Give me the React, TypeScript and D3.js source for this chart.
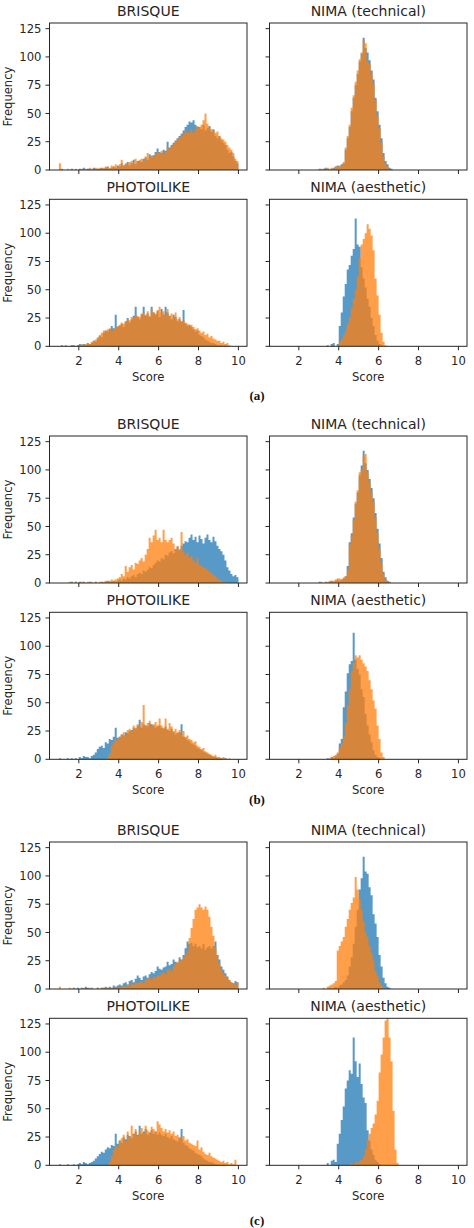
import React from "react";
import * as d3 from "d3";

// bin width of every histogram (score units)
const BIN = 0.1;

const groupLabels = ["(a)", "(b)", "(c)"];
const panelTitles = ["BRISQUE", "NIMA (technical)", "PHOTOILIKE", "NIMA (aesthetic)"];
const xTicks = [2, 4, 6, 8, 10];
const yTicks = [0, 25, 50, 75, 100, 125];

// ---- (a) ----
const aBrisqueBlue = { from: 1.0, counts: [
  0,1,0,0,0,0,1,0,0,0, 1,0,2,0,1,1,0,2,1,1, 1,2,1,2,3,1,2,3,2,4,
  3,6,4,5,7,4,6,9,5,8, 8,7,10,11,9,14,12,13,16,19, 16,15,18,17,25,20,22,24,26,28,
  30,32,35,38,40,43,42,44,40,38, 38,36,40,35,37,39,34,36,30,28, 30,26,24,22,18,15,16,12,8,6] };
const aBrisqueOrange = { from: 1.0, counts: [
  6,0,0,0,1,0,0,0,1,0, 0,1,0,1,0,2,1,1,2,1, 2,1,2,3,2,2,4,3,5,2,
  5,9,4,6,5,7,8,6,10,7, 9,10,8,12,15,11,13,12,14,16, 15,17,14,16,20,19,21,23,25,27,
  29,30,32,35,33,34,36,33,36,39, 38,40,44,50,41,38,36,35,33,34, 30,28,27,25,22,20,18,15,10,8] };
const aNimaTBlue = { from: 3.0, counts: [
  1,0,1,2,1,0,1,2,3,4, 3,5,6,18,28,38,52,64,75,85, 96,103,117,108,104,97,88,80,64,52, 40,28,15,8,5,2,1] };
const aNimaTOrange = { from: 3.0, counts: [
  0,1,0,1,2,1,2,1,3,3, 4,4,7,20,30,40,55,66,78,88, 98,104,115,112,96,94,85,76,62,48, 37,24,12,6,3,1] };
const aPhotoBlue = { from: 1.0, counts: [
  0,1,0,1,0,0,1,1,0,1, 2,1,2,1,3,2,3,5,4,7, 9,8,12,14,13,15,18,16,28,17,
  18,20,17,22,25,21,24,27,35,26, 24,28,35,27,29,26,35,30,28,31, 26,33,28,35,30,27,24,28,26,22,
  24,22,32,20,18,19,17,15,13,14, 10,9,8,6,5,4,3,3,2,1, 1,1,0,1] };
const aPhotoOrange = { from: 1.5, counts: [
  0,1,0,0,1, 1,2,1,2,3,2,4,5,6,8, 10,12,14,13,15,16,14,15,17,18,
  19,21,20,22,24,23,26,25,28,27, 26,29,30,28,31,27,33,30,29,32, 35,30,31,28,33,27,29,25,30,24,
  26,22,23,21,20,18,19,17,15,16, 14,12,13,10,11,8,9,7,6,5, 5,3,4,2,3,1] };
const aNimaABlue = { from: 3.4, counts: [
  1,0,2,3,0,2, 18,30,44,55,68,72,80,86,113,90, 88,70,60,52,42,35,25,18,10,5, 2,1] };
const aNimaAOrange = { from: 4.0, counts: [
  4,6,10,14,20,26,34,42,50,62, 78,90,95,100,108,104,98,85,60,45, 28,12,4,1] };

// ---- (b) ----
const bBrisqueBlue = { from: 1.5, counts: [
  0,1,0,1,0, 1,0,1,0,0,1,0,0,1,0, 0,1,0,1,2,1,1,2,1,2,
  3,2,4,3,5,4,6,7,5,8, 9,8,11,10,12,14,13,16,18,20, 19,22,21,25,24,27,28,26,30,32,
  29,33,35,37,36,40,43,38,41,36, 42,39,35,40,43,38,36,41,37,33, 30,28,25,20,14,11,8,6,7,5] };
const bBrisqueOrange = { from: 1.5, counts: [
  1,0,0,1,0, 0,1,0,0,1,0,1,0,1,0, 1,0,1,2,1,2,3,2,3,4,
  5,8,6,15,10,14,16,12,18,17, 20,22,19,25,30,40,36,42,47,38, 40,36,47,38,36,38,40,35,30,33,
  30,45,28,25,27,22,24,20,18,22, 16,15,14,13,12,10,9,7,6,4, 3,2,1,1] };
const bNimaTBlue = { from: 3.0, counts: [
  1,0,0,1,0,1,2,1,2,3, 2,3,4,6,15,36,44,58,70,80, 95,104,117,106,100,92,84,75,62,48, 35,22,10,5,2,1] };
const bNimaTOrange = { from: 3.0, counts: [
  0,1,0,0,1,2,1,2,3,4, 4,3,5,6,12,34,42,56,72,82, 98,100,112,114,98,90,80,72,58,44, 30,18,8,3,1] };
const bPhotoBlue = { from: 1.0, counts: [
  1,0,0,0,1,0,1,0,1,0, 2,1,3,2,2,1,3,4,6,9, 11,12,10,15,14,18,17,20,28,19,
  20,22,21,24,23,25,26,28,27,30, 35,28,31,30,29,32,31,30,28,29, 30,28,27,29,26,25,27,24,22,23,
  24,31,20,19,17,16,14,13,12,10, 9,8,7,6,5,4,3,2,2,1, 1,1,0,1] };
const bPhotoOrange = { from: 3.4, counts: [
  2,5,12,15,18,17, 20,22,24,21,26,27,25,30,28,31, 29,33,48,30,32,34,29,31,33,30,
  36,30,28,36,27,32,29,25,27,24, 26,22,25,20,21,18,17,15,16,12, 11,9,10,7,6,5,4,3,4,2, 2,1,2,1,0,1] };
const bNimaABlue = { from: 3.4, counts: [
  1,0,2,1,3,5, 14,18,46,60,76,84,87,112,88,80, 75,62,55,40,30,22,15,8,4,2, 1] };
const bNimaAOrange = { from: 3.5, counts: [
  1,2,3,4,6, 10,14,20,32,48,62,78,85,92,90, 92,88,85,82,78,70,62,52,45,30, 18,6,2] };

// ---- (c) ----
const cBrisqueBlue = { from: 1.5, counts: [
  0,0,1,0,1, 0,1,0,2,1,0,1,0,0,1, 0,1,1,2,1,2,1,3,2,3,
  4,3,5,6,4,7,8,6,9,12, 10,8,11,12,10,13,15,14,16,20, 18,17,19,20,24,21,22,26,24,23,
  28,26,30,36,42,40,41,38,40,37, 38,36,40,35,37,38,36,38,42,30, 26,20,17,14,11,8,6,5,7,6] };
const cBrisqueOrange = { from: 1.0, counts: [
  2,0,0,0,0,1,0,0,0,0, 0,0,1,0,0,1,0,0,0,1, 0,1,0,1,0,1,1,0,2,1,
  1,2,3,2,4,3,5,4,6,5, 6,7,5,8,9,10,8,11,10,12, 12,14,15,13,17,18,16,20,22,24,
  25,26,28,30,34,45,54,62,70,72, 75,72,70,73,70,64,55,47,37,30, 23,18,14,12,10,8,6,5,4,6] };
const cNimaTBlue = { from: 3.4, counts: [
  0,1,0,1,2,1, 3,4,6,8,12,20,28,40,55,70, 88,98,117,104,102,90,83,66,58,46, 30,20,10,5,2,1] };
const cNimaTOrange = { from: 3.2, counts: [
  1,0,2,3,4,5,7,34, 38,42,46,55,62,70,76,81,99,88, 80,70,60,50,46,38,32,25,16,12, 6,3,1] };
const cPhotoBlue = { from: 1.0, counts: [
  1,0,0,0,1,0,0,1,0,1, 2,1,3,2,1,2,3,4,6,8, 10,12,11,14,16,15,18,17,28,19,
  22,20,25,23,27,26,24,28,30,27, 35,28,30,32,27,29,31,28,30,27, 29,27,26,28,25,24,26,23,22,21,
  24,32,20,18,17,15,14,13,11,10, 9,8,6,5,4,3,3,2,1,1, 1,0,1] };
const cPhotoOrange = { from: 3.5, counts: [
  3,8,14,18,16, 22,24,27,21,30,25,35,28,32,26, 30,33,28,35,31,29,34,32,30,39,
  36,33,30,32,29,31,28,30,26,27, 25,24,26,22,23,20,19,18,17,22, 14,16,12,10,9,11,8,7,6,5, 4,3,4,2,3,1,2,1,5] };
const cNimaABlue = { from: 3.4, counts: [
  2,0,4,5,3,19, 28,40,52,68,75,84,81,113,92,78, 90,72,60,55,31,22,14,9,5,3, 1] };
const cNimaAOrange = { from: 4.5, counts: [
  1,2,1,3,2, 4,5,8,14,22,28,33,37,45,57, 82,98,113,128,132,113,92,48,14,2] };

const groups = [
  [[aBrisqueBlue, aBrisqueOrange], [aNimaTBlue, aNimaTOrange], [aPhotoBlue, aPhotoOrange], [aNimaABlue, aNimaAOrange]],
  [[bBrisqueBlue, bBrisqueOrange], [bNimaTBlue, bNimaTOrange], [bPhotoBlue, bPhotoOrange], [bNimaABlue, bNimaAOrange]],
  [[cBrisqueBlue, cBrisqueOrange], [cNimaTBlue, cNimaTOrange], [cPhotoBlue, cPhotoOrange], [cNimaABlue, cNimaAOrange]],
];

// layout
const W = 474, H = 1228;
const colLeft = [49.5, 269.5];
const AX_W = 197.5, AX_H = 147, ROW_PITCH = 176.3;
const groupTop = [23, 436, 842];
const groupLabelY = [399.5, 803.5, 1224.5];
const FONT = "DejaVu Sans, sans-serif";
const INK = "#262626";
const BLUE = "#1f77b4", ORANGE = "#ff7f0e";

type Series = { from: number; counts: number[] };

function Panel({ left, top, title, pair, xLabels, yLabels }: {
  left: number; top: number; title: string; pair: Series[]; xLabels: boolean; yLabels: boolean;
}) {
  const x = d3.scaleLinear().domain([0.53, 10.43]).range([left, left + AX_W]);
  const y = d3.scaleLinear().domain([0, 130]).range([top + AX_H, top]).clamp(true);
  const area = d3.area<[number, number]>()
    .x(d => x(d[0]))
    .y0(y(0))
    .y1(d => y(d[1]))
    .curve(d3.curveStepAfter);
  const steps = (s: Series) => {
    const pts: [number, number][] = s.counts.map((c, i) => [s.from + i * BIN, c]);
    pts.push([s.from + s.counts.length * BIN, s.counts[s.counts.length - 1]]);
    return pts;
  };
  const bottom = top + AX_H;
  return (
    <g>
      {pair.map((s, i) => (
        <path key={i} d={area(steps(s)) || ""} fill={i === 0 ? BLUE : ORANGE} fillOpacity={0.75} />
      ))}
      <rect x={left} y={top} width={AX_W} height={AX_H} fill="none" stroke={INK} strokeWidth={1} />
      {xTicks.map(t => (
        <g key={"x" + t}>
          <line x1={x(t)} x2={x(t)} y1={bottom} y2={bottom + 4} stroke={INK} />
          {xLabels && (
            <text x={x(t)} y={bottom + 18.5} textAnchor="middle" fontSize={11.6} fontFamily={FONT} fill={INK}>{t}</text>
          )}
        </g>
      ))}
      {yTicks.map(t => (
        <g key={"y" + t}>
          <line x1={left - 4} x2={left} y1={y(t)} y2={y(t)} stroke={INK} />
          {yLabels && (
            <text x={left - 8} y={y(t) + 4.1} textAnchor="end" fontSize={11.6} fontFamily={FONT} fill={INK}>{t}</text>
          )}
        </g>
      ))}
      <text x={left + AX_W / 2} y={top - 7} textAnchor="middle" fontSize={14} fontFamily={FONT} fill={INK}>{title}</text>
      {xLabels && (
        <text x={left + AX_W / 2} y={bottom + 34.5} textAnchor="middle" fontSize={11.6} fontFamily={FONT} fill={INK}>Score</text>
      )}
      {yLabels && (
        <text transform={`translate(11.5,${top + AX_H / 2}) rotate(-90)`} textAnchor="middle" fontSize={11.6} fontFamily={FONT} fill={INK}>Frequency</text>
      )}
    </g>
  );
}

export default function App() {
  return (
    <div style={{ position: "absolute", left: 0, top: 0, background: "#fff" }}>
      <svg width={W} height={H} viewBox={`0 0 ${W} ${H}`}>
        <rect width={W} height={H} fill="#fff" />
        {groups.map((g, gi) => (
          <g key={gi}>
            {g.map((pair, pi) => {
              const row = Math.floor(pi / 2), col = pi % 2;
              return (
                <Panel key={pi} left={colLeft[col]} top={groupTop[gi] + row * ROW_PITCH} title={panelTitles[pi]}
                  pair={pair} xLabels={row === 1} yLabels={col === 0} />
              );
            })}
            <text x={257} y={groupLabelY[gi]} textAnchor="middle" fontSize={13} fontWeight="bold"
              fontFamily="Liberation Serif, serif" fill="#111">{groupLabels[gi]}</text>
          </g>
        ))}
      </svg>
    </div>
  );
}
